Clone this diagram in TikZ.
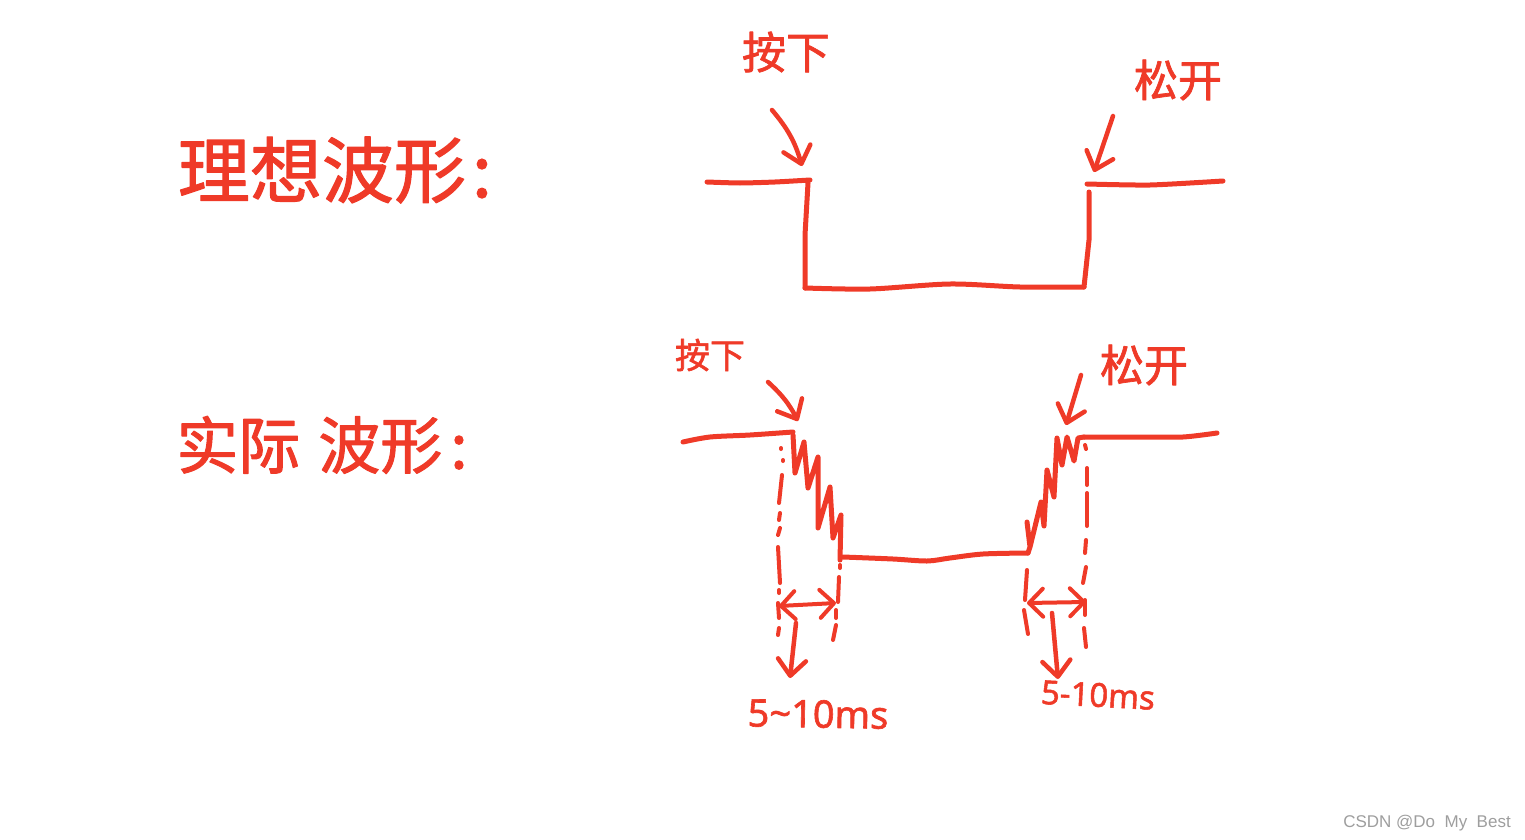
\documentclass[tikz,border=0pt]{standalone}
\usepackage{fontspec}
\setmainfont{Liberation Sans}
\newfontfamily\cjk[FakeBold=1.6]{Noto Sans CJK SC}
\newfontfamily\hand[FakeBold=1.6]{Noto Sans}
\usetikzlibrary{arrows.meta}
\definecolor{penred}{HTML}{EF3A28}
\begin{document}
\begin{tikzpicture}[x=1pt,y=-1pt,line width=5pt,line cap=round,line join=round,color=penred,
            pen arrow/.style={-{Straight Barb[length=16pt,width=28pt,line width=4.5pt,round]},line width=4.5pt},
            main text/.style={text=penred,inner sep=0pt,font=\cjk\fontsize{72}{74}\selectfont},
            small text/.style={text=penred,inner sep=0pt,font=\cjk\fontsize{44}{46}\selectfont},
            time text/.style={text=penred,inner sep=0pt,font=\hand\fontsize{38}{40}\selectfont}]
        \useasboundingbox (0,0) rectangle (1525,840);

        % Define labels
        \node[main text] (ideal) at (335,170) {理想波形\hspace{6pt}:};
        \node[main text,font=\cjk\fontsize{62}{64}\selectfont] (real) at (322,445) {实际\hspace{18pt}波形\hspace{8pt}:};
        \node[small text] (press1) at (786,52) {按下};
        \node[small text] (release1) at (1178,80) {松开};
        \node[small text,font=\cjk\fontsize{35}{37}\selectfont] (press2) at (710,355) {按下};
        \node[small text] (release2) at (1144,365) {松开};
        \node[time text,rotate=-1] (time1) at (818,714) {5\textasciitilde10ms};
        \node[time text,font=\hand\fontsize{33}{35}\selectfont,rotate=-3] (time2) at (1098,695) {5-10ms};
        \node[text=black!38,inner sep=0pt,font=\fontsize{17}{19}\selectfont] (mark) at (1427,823) {CSDN @Do\ \ My\ \ Best};

        % Define arrow ends
        \coordinate (press1 from) at (772,110);
        \coordinate (press1 to) at (802,166);
        \coordinate (release1 from) at (1113,116);
        \coordinate (release1 to) at (1094,172);
        \coordinate (press2 from) at (768,382);
        \coordinate (press2 to) at (798,421);
        \coordinate (release2 from) at (1081,375);
        \coordinate (release2 to) at (1066,425);
        \coordinate (span1 left) at (779,606);
        \coordinate (span1 right) at (836,603);
        \coordinate (span2 left) at (1027,603);
        \coordinate (span2 right) at (1086,602);
        \coordinate (time1 from) at (796,623);
        \coordinate (time1 to) at (790,678);
        \coordinate (time2 from) at (1052,613);
        \coordinate (time2 to) at (1058,679);

        % Draw waveforms
        \draw plot[smooth,tension=0.4] coordinates {(707,182) (740,183) (775,182) (810,180)};
        \draw (808,183) -- (805,235) -- (805,288);
        \draw plot[smooth,tension=0.5] coordinates {(805,288) (870,289) (950,284) (1020,287) (1084,287)};
        \draw (1084,287) -- (1089,240) -- (1089,192);
        \draw plot[smooth,tension=0.4] coordinates {(1087,184) (1150,185) (1223,181)};

        \draw plot[smooth,tension=0.5] coordinates {(683,442) (710,437) (750,435) (793,432)};
        \draw (793,435) -- (795,473) -- (804,442) -- (808,488) -- (818,457) -- (818,528)
            -- (830,487) -- (833,538) -- (841,515) -- (840,560);
        \draw plot[smooth,tension=0.5] coordinates {(843,557) (893,559) (927,561) (950,558) (983,554) (1028,553)};
        \draw (1028,553) -- (1030,547) -- (1027,522) (1030,547) -- (1041,502) -- (1044,526) -- (1047,470)
            -- (1054,497) -- (1057,438) -- (1062,465) -- (1067,437) -- (1074,461) -- (1078,438) -- (1084,437);
        \draw plot[smooth,tension=0.4] coordinates {(1084,437) (1133,437) (1183,437) (1217,433)};

        % Draw guide marks
        \foreach \xa/\ya/\xb/\yb in {781/448/781/449, 783/460/783/461, 782/475/779/503, 780/513/779/520,
            780/528/778/535, 778/547/780/583, 779/590/779/593, 778/603/779/618, 779/628/778/635,
            840/565/840/568, 839/577/838/602, 836/610/836/618, 836/625/833/640,
            1085/445/1086/449, 1087/468/1087/485, 1087/493/1087/526, 1086/540/1085/553, 1086/567/1083/583,
            1085/600/1085/615, 1084/628/1086/647, 1027/570/1025/600, 1024/610/1028/634}
            \draw[line width=4pt] (\xa,\ya) -- (\xb,\yb);

        % Draw arrows
        \path[pen arrow]
            (press1 from) edge[bend left=12] (press1 to)
            (release1 from) edge (release1 to)
            (press2 from) edge[bend left=10] (press2 to)
            (release2 from) edge (release2 to)
            (time1 from) edge (time1 to)
            (time2 from) edge (time2 to);
        \path[{Straight Barb[length=14pt,width=28pt,line width=4pt,round]}-{Straight Barb[length=14pt,width=28pt,line width=4pt,round]},line width=4pt]
            (span1 left) edge (span1 right)
            (span2 left) edge (span2 right);

        \end{tikzpicture}
\end{document}
